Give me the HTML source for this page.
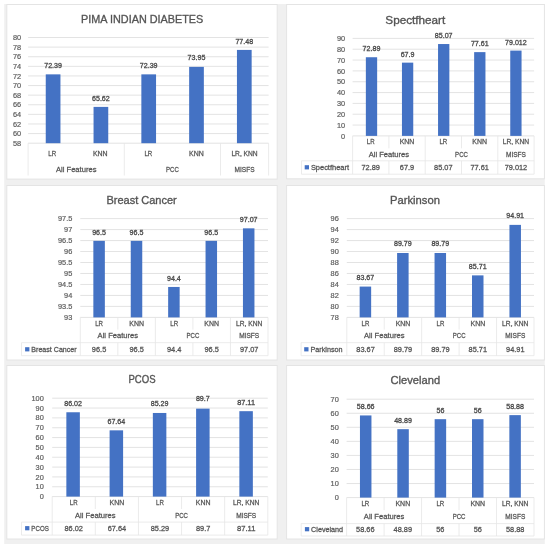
<!DOCTYPE html>
<html lang="en"><head><meta charset="utf-8"><title>Classification accuracy charts</title>
<style>
html,body{margin:0;padding:0;background:#fff;}
svg{display:block;font-family:"Liberation Sans", Arial, Helvetica, sans-serif;}
</style></head><body>
<svg width="550" height="548" viewBox="0 0 550 548">
<rect x="0" y="0" width="550" height="548" fill="#ffffff"/>
<rect x="4.20" y="4.00" width="540.60" height="540.00" fill="#f0f0f0" />
<rect x="6.80" y="4.50" width="270.40" height="174.60" fill="#ffffff" stroke="#e4e4e4" stroke-width="1"/>
<text x="142.20" y="22.92" font-size="11.52" text-anchor="middle" textLength="122.20" lengthAdjust="spacingAndGlyphs" fill="#545454" stroke="#545454" stroke-width="0.33">PIMA INDIAN DIABETES</text>
<line x1="28.10" y1="143.20" x2="268.60" y2="143.20" stroke="#dcdcdc" stroke-width="0.8"/>
<text x="21.20" y="145.81" font-size="7.29" text-anchor="end" textLength="8.21" lengthAdjust="spacingAndGlyphs" fill="#606060" stroke="#606060" stroke-width="0.2">58</text>
<line x1="28.10" y1="133.59" x2="268.60" y2="133.59" stroke="#dcdcdc" stroke-width="0.8"/>
<text x="21.20" y="136.20" font-size="7.29" text-anchor="end" textLength="8.21" lengthAdjust="spacingAndGlyphs" fill="#606060" stroke="#606060" stroke-width="0.2">60</text>
<line x1="28.10" y1="123.98" x2="268.60" y2="123.98" stroke="#dcdcdc" stroke-width="0.8"/>
<text x="21.20" y="126.59" font-size="7.29" text-anchor="end" textLength="8.21" lengthAdjust="spacingAndGlyphs" fill="#606060" stroke="#606060" stroke-width="0.2">62</text>
<line x1="28.10" y1="114.37" x2="268.60" y2="114.37" stroke="#dcdcdc" stroke-width="0.8"/>
<text x="21.20" y="116.98" font-size="7.29" text-anchor="end" textLength="8.21" lengthAdjust="spacingAndGlyphs" fill="#606060" stroke="#606060" stroke-width="0.2">64</text>
<line x1="28.10" y1="104.76" x2="268.60" y2="104.76" stroke="#dcdcdc" stroke-width="0.8"/>
<text x="21.20" y="107.37" font-size="7.29" text-anchor="end" textLength="8.21" lengthAdjust="spacingAndGlyphs" fill="#606060" stroke="#606060" stroke-width="0.2">66</text>
<line x1="28.10" y1="95.15" x2="268.60" y2="95.15" stroke="#dcdcdc" stroke-width="0.8"/>
<text x="21.20" y="97.76" font-size="7.29" text-anchor="end" textLength="8.21" lengthAdjust="spacingAndGlyphs" fill="#606060" stroke="#606060" stroke-width="0.2">68</text>
<line x1="28.10" y1="85.55" x2="268.60" y2="85.55" stroke="#dcdcdc" stroke-width="0.8"/>
<text x="21.20" y="88.16" font-size="7.29" text-anchor="end" textLength="8.21" lengthAdjust="spacingAndGlyphs" fill="#606060" stroke="#606060" stroke-width="0.2">70</text>
<line x1="28.10" y1="75.94" x2="268.60" y2="75.94" stroke="#dcdcdc" stroke-width="0.8"/>
<text x="21.20" y="78.55" font-size="7.29" text-anchor="end" textLength="8.21" lengthAdjust="spacingAndGlyphs" fill="#606060" stroke="#606060" stroke-width="0.2">72</text>
<line x1="28.10" y1="66.33" x2="268.60" y2="66.33" stroke="#dcdcdc" stroke-width="0.8"/>
<text x="21.20" y="68.94" font-size="7.29" text-anchor="end" textLength="8.21" lengthAdjust="spacingAndGlyphs" fill="#606060" stroke="#606060" stroke-width="0.2">74</text>
<line x1="28.10" y1="56.72" x2="268.60" y2="56.72" stroke="#dcdcdc" stroke-width="0.8"/>
<text x="21.20" y="59.33" font-size="7.29" text-anchor="end" textLength="8.21" lengthAdjust="spacingAndGlyphs" fill="#606060" stroke="#606060" stroke-width="0.2">76</text>
<line x1="28.10" y1="47.11" x2="268.60" y2="47.11" stroke="#dcdcdc" stroke-width="0.8"/>
<text x="21.20" y="49.72" font-size="7.29" text-anchor="end" textLength="8.21" lengthAdjust="spacingAndGlyphs" fill="#606060" stroke="#606060" stroke-width="0.2">78</text>
<line x1="28.10" y1="37.50" x2="268.60" y2="37.50" stroke="#dcdcdc" stroke-width="0.8"/>
<text x="21.20" y="40.11" font-size="7.29" text-anchor="end" textLength="8.21" lengthAdjust="spacingAndGlyphs" fill="#606060" stroke="#606060" stroke-width="0.2">80</text>
<rect x="45.75" y="74.36" width="14.70" height="68.84" fill="#4472c4" />
<text x="53.10" y="67.98" font-size="7.02" text-anchor="middle" textLength="17.78" lengthAdjust="spacingAndGlyphs" fill="#4a4a4a" stroke="#4a4a4a" stroke-width="0.3">72.39</text>
<rect x="93.55" y="106.89" width="14.70" height="36.31" fill="#4472c4" />
<text x="100.90" y="100.50" font-size="7.02" text-anchor="middle" textLength="17.78" lengthAdjust="spacingAndGlyphs" fill="#4a4a4a" stroke="#4a4a4a" stroke-width="0.3">65.62</text>
<rect x="141.35" y="74.36" width="14.70" height="68.84" fill="#4472c4" />
<text x="148.70" y="67.98" font-size="7.02" text-anchor="middle" textLength="17.78" lengthAdjust="spacingAndGlyphs" fill="#4a4a4a" stroke="#4a4a4a" stroke-width="0.3">72.39</text>
<rect x="189.15" y="66.87" width="14.70" height="76.33" fill="#4472c4" />
<text x="196.50" y="60.48" font-size="7.02" text-anchor="middle" textLength="17.78" lengthAdjust="spacingAndGlyphs" fill="#4a4a4a" stroke="#4a4a4a" stroke-width="0.3">73.95</text>
<rect x="236.95" y="49.91" width="14.70" height="93.29" fill="#4472c4" />
<text x="244.30" y="43.52" font-size="7.02" text-anchor="middle" textLength="17.78" lengthAdjust="spacingAndGlyphs" fill="#4a4a4a" stroke="#4a4a4a" stroke-width="0.3">77.48</text>
<line x1="28.10" y1="143.20" x2="28.10" y2="175.50" stroke="#e6e6e6" stroke-width="0.8"/>
<line x1="124.30" y1="143.20" x2="124.30" y2="175.50" stroke="#e6e6e6" stroke-width="0.8"/>
<line x1="220.50" y1="143.20" x2="220.50" y2="175.50" stroke="#e6e6e6" stroke-width="0.8"/>
<line x1="268.60" y1="143.20" x2="268.60" y2="175.50" stroke="#e6e6e6" stroke-width="0.8"/>
<text x="52.15" y="155.91" font-size="7.29" text-anchor="middle" textLength="7.80" lengthAdjust="spacingAndGlyphs" fill="#545454" stroke="#545454" stroke-width="0.26">LR</text>
<text x="100.25" y="155.91" font-size="7.29" text-anchor="middle" textLength="14.67" lengthAdjust="spacingAndGlyphs" fill="#545454" stroke="#545454" stroke-width="0.26">KNN</text>
<text x="148.35" y="155.91" font-size="7.29" text-anchor="middle" textLength="7.80" lengthAdjust="spacingAndGlyphs" fill="#545454" stroke="#545454" stroke-width="0.26">LR</text>
<text x="196.45" y="155.91" font-size="7.29" text-anchor="middle" textLength="14.67" lengthAdjust="spacingAndGlyphs" fill="#545454" stroke="#545454" stroke-width="0.26">KNN</text>
<text x="244.55" y="155.91" font-size="7.29" text-anchor="middle" textLength="26.32" lengthAdjust="spacingAndGlyphs" fill="#545454" stroke="#545454" stroke-width="0.26">LR, KNN</text>
<text x="76.20" y="172.04" font-size="7.65" text-anchor="middle" textLength="40.49" lengthAdjust="spacingAndGlyphs" fill="#545454" stroke="#545454" stroke-width="0.26">All Features</text>
<text x="172.40" y="171.91" font-size="7.29" text-anchor="middle" textLength="12.82" lengthAdjust="spacingAndGlyphs" fill="#545454" stroke="#545454" stroke-width="0.26">PCC</text>
<text x="244.55" y="171.91" font-size="7.29" text-anchor="middle" textLength="20.02" lengthAdjust="spacingAndGlyphs" fill="#545454" stroke="#545454" stroke-width="0.26">MISFS</text>
<rect x="286.60" y="4.50" width="257.80" height="174.30" fill="#ffffff" stroke="#e4e4e4" stroke-width="1"/>
<text x="415.30" y="23.81" font-size="11.47" text-anchor="middle" textLength="59.97" lengthAdjust="spacingAndGlyphs" fill="#545454" stroke="#545454" stroke-width="0.33">Spectfheart</text>
<line x1="352.60" y1="135.90" x2="534.10" y2="135.90" stroke="#dcdcdc" stroke-width="0.8"/>
<text x="345.20" y="138.51" font-size="7.29" text-anchor="end" textLength="4.11" lengthAdjust="spacingAndGlyphs" fill="#606060" stroke="#606060" stroke-width="0.2">0</text>
<line x1="352.60" y1="125.07" x2="534.10" y2="125.07" stroke="#dcdcdc" stroke-width="0.8"/>
<text x="345.20" y="127.68" font-size="7.29" text-anchor="end" textLength="8.21" lengthAdjust="spacingAndGlyphs" fill="#606060" stroke="#606060" stroke-width="0.2">10</text>
<line x1="352.60" y1="114.23" x2="534.10" y2="114.23" stroke="#dcdcdc" stroke-width="0.8"/>
<text x="345.20" y="116.84" font-size="7.29" text-anchor="end" textLength="8.21" lengthAdjust="spacingAndGlyphs" fill="#606060" stroke="#606060" stroke-width="0.2">20</text>
<line x1="352.60" y1="103.40" x2="534.10" y2="103.40" stroke="#dcdcdc" stroke-width="0.8"/>
<text x="345.20" y="106.01" font-size="7.29" text-anchor="end" textLength="8.21" lengthAdjust="spacingAndGlyphs" fill="#606060" stroke="#606060" stroke-width="0.2">30</text>
<line x1="352.60" y1="92.57" x2="534.10" y2="92.57" stroke="#dcdcdc" stroke-width="0.8"/>
<text x="345.20" y="95.18" font-size="7.29" text-anchor="end" textLength="8.21" lengthAdjust="spacingAndGlyphs" fill="#606060" stroke="#606060" stroke-width="0.2">40</text>
<line x1="352.60" y1="81.73" x2="534.10" y2="81.73" stroke="#dcdcdc" stroke-width="0.8"/>
<text x="345.20" y="84.34" font-size="7.29" text-anchor="end" textLength="8.21" lengthAdjust="spacingAndGlyphs" fill="#606060" stroke="#606060" stroke-width="0.2">50</text>
<line x1="352.60" y1="70.90" x2="534.10" y2="70.90" stroke="#dcdcdc" stroke-width="0.8"/>
<text x="345.20" y="73.51" font-size="7.29" text-anchor="end" textLength="8.21" lengthAdjust="spacingAndGlyphs" fill="#606060" stroke="#606060" stroke-width="0.2">60</text>
<line x1="352.60" y1="60.07" x2="534.10" y2="60.07" stroke="#dcdcdc" stroke-width="0.8"/>
<text x="345.20" y="62.68" font-size="7.29" text-anchor="end" textLength="8.21" lengthAdjust="spacingAndGlyphs" fill="#606060" stroke="#606060" stroke-width="0.2">70</text>
<line x1="352.60" y1="49.23" x2="534.10" y2="49.23" stroke="#dcdcdc" stroke-width="0.8"/>
<text x="345.20" y="51.84" font-size="7.29" text-anchor="end" textLength="8.21" lengthAdjust="spacingAndGlyphs" fill="#606060" stroke="#606060" stroke-width="0.2">80</text>
<line x1="352.60" y1="38.40" x2="534.10" y2="38.40" stroke="#dcdcdc" stroke-width="0.8"/>
<text x="345.20" y="41.01" font-size="7.29" text-anchor="end" textLength="8.21" lengthAdjust="spacingAndGlyphs" fill="#606060" stroke="#606060" stroke-width="0.2">90</text>
<rect x="365.85" y="57.24" width="11.30" height="78.66" fill="#4472c4" />
<text x="371.50" y="51.25" font-size="7.02" text-anchor="middle" textLength="17.78" lengthAdjust="spacingAndGlyphs" fill="#4a4a4a" stroke="#4a4a4a" stroke-width="0.3">72.89</text>
<rect x="401.95" y="62.64" width="11.30" height="73.26" fill="#4472c4" />
<text x="407.60" y="56.65" font-size="7.02" text-anchor="middle" textLength="13.83" lengthAdjust="spacingAndGlyphs" fill="#4a4a4a" stroke="#4a4a4a" stroke-width="0.3">67.9</text>
<rect x="438.05" y="44.04" width="11.30" height="91.86" fill="#4472c4" />
<text x="443.70" y="38.05" font-size="7.02" text-anchor="middle" textLength="17.78" lengthAdjust="spacingAndGlyphs" fill="#4a4a4a" stroke="#4a4a4a" stroke-width="0.3">85.07</text>
<rect x="474.15" y="52.12" width="11.30" height="83.78" fill="#4472c4" />
<text x="479.80" y="46.14" font-size="7.02" text-anchor="middle" textLength="17.78" lengthAdjust="spacingAndGlyphs" fill="#4a4a4a" stroke="#4a4a4a" stroke-width="0.3">77.61</text>
<rect x="510.25" y="50.60" width="11.30" height="85.30" fill="#4472c4" />
<text x="515.90" y="44.62" font-size="7.02" text-anchor="middle" textLength="21.74" lengthAdjust="spacingAndGlyphs" fill="#4a4a4a" stroke="#4a4a4a" stroke-width="0.3">79.012</text>
<line x1="352.60" y1="135.90" x2="352.60" y2="174.20" stroke="#e6e6e6" stroke-width="0.8"/>
<line x1="388.90" y1="135.90" x2="388.90" y2="148.30" stroke="#e6e6e6" stroke-width="0.8"/>
<line x1="388.90" y1="160.80" x2="388.90" y2="174.20" stroke="#e6e6e6" stroke-width="0.8"/>
<line x1="425.20" y1="135.90" x2="425.20" y2="174.20" stroke="#e6e6e6" stroke-width="0.8"/>
<line x1="461.50" y1="135.90" x2="461.50" y2="148.30" stroke="#e6e6e6" stroke-width="0.8"/>
<line x1="461.50" y1="160.80" x2="461.50" y2="174.20" stroke="#e6e6e6" stroke-width="0.8"/>
<line x1="497.80" y1="135.90" x2="497.80" y2="174.20" stroke="#e6e6e6" stroke-width="0.8"/>
<line x1="534.10" y1="135.90" x2="534.10" y2="174.20" stroke="#e6e6e6" stroke-width="0.8"/>
<text x="370.75" y="144.41" font-size="7.29" text-anchor="middle" textLength="7.80" lengthAdjust="spacingAndGlyphs" fill="#545454" stroke="#545454" stroke-width="0.26">LR</text>
<text x="407.05" y="144.41" font-size="7.29" text-anchor="middle" textLength="14.67" lengthAdjust="spacingAndGlyphs" fill="#545454" stroke="#545454" stroke-width="0.26">KNN</text>
<text x="443.35" y="144.41" font-size="7.29" text-anchor="middle" textLength="7.80" lengthAdjust="spacingAndGlyphs" fill="#545454" stroke="#545454" stroke-width="0.26">LR</text>
<text x="479.65" y="144.41" font-size="7.29" text-anchor="middle" textLength="14.67" lengthAdjust="spacingAndGlyphs" fill="#545454" stroke="#545454" stroke-width="0.26">KNN</text>
<text x="515.95" y="144.41" font-size="7.29" text-anchor="middle" textLength="26.32" lengthAdjust="spacingAndGlyphs" fill="#545454" stroke="#545454" stroke-width="0.26">LR, KNN</text>
<text x="388.90" y="157.24" font-size="7.65" text-anchor="middle" textLength="40.49" lengthAdjust="spacingAndGlyphs" fill="#545454" stroke="#545454" stroke-width="0.26">All Features</text>
<text x="461.50" y="157.11" font-size="7.29" text-anchor="middle" textLength="12.82" lengthAdjust="spacingAndGlyphs" fill="#545454" stroke="#545454" stroke-width="0.26">PCC</text>
<text x="515.95" y="157.11" font-size="7.29" text-anchor="middle" textLength="20.02" lengthAdjust="spacingAndGlyphs" fill="#545454" stroke="#545454" stroke-width="0.26">MISFS</text>
<line x1="301.50" y1="160.80" x2="534.10" y2="160.80" stroke="#e6e6e6" stroke-width="0.8"/>
<line x1="301.50" y1="174.20" x2="534.10" y2="174.20" stroke="#e6e6e6" stroke-width="0.8"/>
<line x1="301.50" y1="160.80" x2="301.50" y2="174.20" stroke="#e6e6e6" stroke-width="0.8"/>
<text x="370.75" y="169.91" font-size="7.29" text-anchor="middle" textLength="18.47" lengthAdjust="spacingAndGlyphs" fill="#545454" stroke="#545454" stroke-width="0.26">72.89</text>
<text x="407.05" y="169.91" font-size="7.29" text-anchor="middle" textLength="14.36" lengthAdjust="spacingAndGlyphs" fill="#545454" stroke="#545454" stroke-width="0.26">67.9</text>
<text x="443.35" y="169.91" font-size="7.29" text-anchor="middle" textLength="18.47" lengthAdjust="spacingAndGlyphs" fill="#545454" stroke="#545454" stroke-width="0.26">85.07</text>
<text x="479.65" y="169.91" font-size="7.29" text-anchor="middle" textLength="18.47" lengthAdjust="spacingAndGlyphs" fill="#545454" stroke="#545454" stroke-width="0.26">77.61</text>
<text x="515.95" y="169.91" font-size="7.29" text-anchor="middle" textLength="22.57" lengthAdjust="spacingAndGlyphs" fill="#545454" stroke="#545454" stroke-width="0.26">79.012</text>
<rect x="304.70" y="165.20" width="4.30" height="4.20" fill="#4472c4" />
<text x="310.90" y="169.91" font-size="7.29" text-anchor="start" textLength="38.10" lengthAdjust="spacingAndGlyphs" fill="#545454" stroke="#545454" stroke-width="0.26">Spectfheart</text>
<rect x="6.80" y="185.50" width="270.40" height="174.50" fill="#ffffff" stroke="#e4e4e4" stroke-width="1"/>
<text x="141.60" y="204.04" font-size="11.30" text-anchor="middle" textLength="70.33" lengthAdjust="spacingAndGlyphs" fill="#545454" stroke="#545454" stroke-width="0.33">Breast Cancer</text>
<line x1="80.30" y1="317.40" x2="268.00" y2="317.40" stroke="#dcdcdc" stroke-width="0.8"/>
<text x="72.30" y="320.01" font-size="7.29" text-anchor="end" textLength="8.21" lengthAdjust="spacingAndGlyphs" fill="#606060" stroke="#606060" stroke-width="0.2">93</text>
<line x1="80.30" y1="306.42" x2="268.00" y2="306.42" stroke="#dcdcdc" stroke-width="0.8"/>
<text x="72.30" y="309.03" font-size="7.29" text-anchor="end" textLength="14.36" lengthAdjust="spacingAndGlyphs" fill="#606060" stroke="#606060" stroke-width="0.2">93.5</text>
<line x1="80.30" y1="295.44" x2="268.00" y2="295.44" stroke="#dcdcdc" stroke-width="0.8"/>
<text x="72.30" y="298.05" font-size="7.29" text-anchor="end" textLength="8.21" lengthAdjust="spacingAndGlyphs" fill="#606060" stroke="#606060" stroke-width="0.2">94</text>
<line x1="80.30" y1="284.47" x2="268.00" y2="284.47" stroke="#dcdcdc" stroke-width="0.8"/>
<text x="72.30" y="287.08" font-size="7.29" text-anchor="end" textLength="14.36" lengthAdjust="spacingAndGlyphs" fill="#606060" stroke="#606060" stroke-width="0.2">94.5</text>
<line x1="80.30" y1="273.49" x2="268.00" y2="273.49" stroke="#dcdcdc" stroke-width="0.8"/>
<text x="72.30" y="276.10" font-size="7.29" text-anchor="end" textLength="8.21" lengthAdjust="spacingAndGlyphs" fill="#606060" stroke="#606060" stroke-width="0.2">95</text>
<line x1="80.30" y1="262.51" x2="268.00" y2="262.51" stroke="#dcdcdc" stroke-width="0.8"/>
<text x="72.30" y="265.12" font-size="7.29" text-anchor="end" textLength="14.36" lengthAdjust="spacingAndGlyphs" fill="#606060" stroke="#606060" stroke-width="0.2">95.5</text>
<line x1="80.30" y1="251.53" x2="268.00" y2="251.53" stroke="#dcdcdc" stroke-width="0.8"/>
<text x="72.30" y="254.14" font-size="7.29" text-anchor="end" textLength="8.21" lengthAdjust="spacingAndGlyphs" fill="#606060" stroke="#606060" stroke-width="0.2">96</text>
<line x1="80.30" y1="240.56" x2="268.00" y2="240.56" stroke="#dcdcdc" stroke-width="0.8"/>
<text x="72.30" y="243.17" font-size="7.29" text-anchor="end" textLength="14.36" lengthAdjust="spacingAndGlyphs" fill="#606060" stroke="#606060" stroke-width="0.2">96.5</text>
<line x1="80.30" y1="229.58" x2="268.00" y2="229.58" stroke="#dcdcdc" stroke-width="0.8"/>
<text x="72.30" y="232.19" font-size="7.29" text-anchor="end" textLength="8.21" lengthAdjust="spacingAndGlyphs" fill="#606060" stroke="#606060" stroke-width="0.2">97</text>
<line x1="80.30" y1="218.60" x2="268.00" y2="218.60" stroke="#dcdcdc" stroke-width="0.8"/>
<text x="72.30" y="221.21" font-size="7.29" text-anchor="end" textLength="14.36" lengthAdjust="spacingAndGlyphs" fill="#606060" stroke="#606060" stroke-width="0.2">97.5</text>
<rect x="93.35" y="240.86" width="11.50" height="76.54" fill="#4472c4" />
<text x="99.10" y="234.67" font-size="7.02" text-anchor="middle" textLength="13.83" lengthAdjust="spacingAndGlyphs" fill="#4a4a4a" stroke="#4a4a4a" stroke-width="0.3">96.5</text>
<rect x="130.75" y="240.86" width="11.50" height="76.54" fill="#4472c4" />
<text x="136.50" y="234.67" font-size="7.02" text-anchor="middle" textLength="13.83" lengthAdjust="spacingAndGlyphs" fill="#4a4a4a" stroke="#4a4a4a" stroke-width="0.3">96.5</text>
<rect x="168.15" y="286.96" width="11.50" height="30.44" fill="#4472c4" />
<text x="173.90" y="280.78" font-size="7.02" text-anchor="middle" textLength="13.83" lengthAdjust="spacingAndGlyphs" fill="#4a4a4a" stroke="#4a4a4a" stroke-width="0.3">94.4</text>
<rect x="205.55" y="240.86" width="11.50" height="76.54" fill="#4472c4" />
<text x="211.30" y="234.67" font-size="7.02" text-anchor="middle" textLength="13.83" lengthAdjust="spacingAndGlyphs" fill="#4a4a4a" stroke="#4a4a4a" stroke-width="0.3">96.5</text>
<rect x="242.95" y="228.34" width="11.50" height="89.06" fill="#4472c4" />
<text x="248.70" y="222.15" font-size="7.02" text-anchor="middle" textLength="17.78" lengthAdjust="spacingAndGlyphs" fill="#4a4a4a" stroke="#4a4a4a" stroke-width="0.3">97.07</text>
<line x1="80.30" y1="317.40" x2="80.30" y2="355.70" stroke="#e6e6e6" stroke-width="0.8"/>
<line x1="117.84" y1="317.40" x2="117.84" y2="329.60" stroke="#e6e6e6" stroke-width="0.8"/>
<line x1="117.84" y1="342.70" x2="117.84" y2="355.70" stroke="#e6e6e6" stroke-width="0.8"/>
<line x1="155.38" y1="317.40" x2="155.38" y2="355.70" stroke="#e6e6e6" stroke-width="0.8"/>
<line x1="192.92" y1="317.40" x2="192.92" y2="329.60" stroke="#e6e6e6" stroke-width="0.8"/>
<line x1="192.92" y1="342.70" x2="192.92" y2="355.70" stroke="#e6e6e6" stroke-width="0.8"/>
<line x1="230.46" y1="317.40" x2="230.46" y2="355.70" stroke="#e6e6e6" stroke-width="0.8"/>
<line x1="268.00" y1="317.40" x2="268.00" y2="355.70" stroke="#e6e6e6" stroke-width="0.8"/>
<text x="99.07" y="325.81" font-size="7.29" text-anchor="middle" textLength="7.80" lengthAdjust="spacingAndGlyphs" fill="#545454" stroke="#545454" stroke-width="0.26">LR</text>
<text x="136.61" y="325.81" font-size="7.29" text-anchor="middle" textLength="14.67" lengthAdjust="spacingAndGlyphs" fill="#545454" stroke="#545454" stroke-width="0.26">KNN</text>
<text x="174.15" y="325.81" font-size="7.29" text-anchor="middle" textLength="7.80" lengthAdjust="spacingAndGlyphs" fill="#545454" stroke="#545454" stroke-width="0.26">LR</text>
<text x="211.69" y="325.81" font-size="7.29" text-anchor="middle" textLength="14.67" lengthAdjust="spacingAndGlyphs" fill="#545454" stroke="#545454" stroke-width="0.26">KNN</text>
<text x="249.23" y="325.81" font-size="7.29" text-anchor="middle" textLength="26.32" lengthAdjust="spacingAndGlyphs" fill="#545454" stroke="#545454" stroke-width="0.26">LR, KNN</text>
<text x="117.84" y="338.24" font-size="7.65" text-anchor="middle" textLength="40.49" lengthAdjust="spacingAndGlyphs" fill="#545454" stroke="#545454" stroke-width="0.26">All Features</text>
<text x="192.92" y="338.11" font-size="7.29" text-anchor="middle" textLength="12.82" lengthAdjust="spacingAndGlyphs" fill="#545454" stroke="#545454" stroke-width="0.26">PCC</text>
<text x="249.23" y="338.11" font-size="7.29" text-anchor="middle" textLength="20.02" lengthAdjust="spacingAndGlyphs" fill="#545454" stroke="#545454" stroke-width="0.26">MISFS</text>
<line x1="21.50" y1="342.70" x2="268.00" y2="342.70" stroke="#e6e6e6" stroke-width="0.8"/>
<line x1="21.50" y1="355.70" x2="268.00" y2="355.70" stroke="#e6e6e6" stroke-width="0.8"/>
<line x1="21.50" y1="342.70" x2="21.50" y2="355.70" stroke="#e6e6e6" stroke-width="0.8"/>
<text x="99.07" y="351.91" font-size="7.29" text-anchor="middle" textLength="14.36" lengthAdjust="spacingAndGlyphs" fill="#545454" stroke="#545454" stroke-width="0.26">96.5</text>
<text x="136.61" y="351.91" font-size="7.29" text-anchor="middle" textLength="14.36" lengthAdjust="spacingAndGlyphs" fill="#545454" stroke="#545454" stroke-width="0.26">96.5</text>
<text x="174.15" y="351.91" font-size="7.29" text-anchor="middle" textLength="14.36" lengthAdjust="spacingAndGlyphs" fill="#545454" stroke="#545454" stroke-width="0.26">94.4</text>
<text x="211.69" y="351.91" font-size="7.29" text-anchor="middle" textLength="14.36" lengthAdjust="spacingAndGlyphs" fill="#545454" stroke="#545454" stroke-width="0.26">96.5</text>
<text x="249.23" y="351.91" font-size="7.29" text-anchor="middle" textLength="18.47" lengthAdjust="spacingAndGlyphs" fill="#545454" stroke="#545454" stroke-width="0.26">97.07</text>
<rect x="25.10" y="347.20" width="4.30" height="4.20" fill="#4472c4" />
<text x="31.30" y="351.91" font-size="7.29" text-anchor="start" textLength="45.39" lengthAdjust="spacingAndGlyphs" fill="#545454" stroke="#545454" stroke-width="0.26">Breast Cancer</text>
<rect x="286.60" y="185.50" width="257.80" height="174.50" fill="#ffffff" stroke="#e4e4e4" stroke-width="1"/>
<text x="415.00" y="204.04" font-size="11.30" text-anchor="middle" textLength="49.90" lengthAdjust="spacingAndGlyphs" fill="#545454" stroke="#545454" stroke-width="0.33">Parkinson</text>
<line x1="346.80" y1="317.40" x2="534.00" y2="317.40" stroke="#dcdcdc" stroke-width="0.8"/>
<text x="338.80" y="320.01" font-size="7.29" text-anchor="end" textLength="8.21" lengthAdjust="spacingAndGlyphs" fill="#606060" stroke="#606060" stroke-width="0.2">78</text>
<line x1="346.80" y1="306.42" x2="534.00" y2="306.42" stroke="#dcdcdc" stroke-width="0.8"/>
<text x="338.80" y="309.03" font-size="7.29" text-anchor="end" textLength="8.21" lengthAdjust="spacingAndGlyphs" fill="#606060" stroke="#606060" stroke-width="0.2">80</text>
<line x1="346.80" y1="295.44" x2="534.00" y2="295.44" stroke="#dcdcdc" stroke-width="0.8"/>
<text x="338.80" y="298.05" font-size="7.29" text-anchor="end" textLength="8.21" lengthAdjust="spacingAndGlyphs" fill="#606060" stroke="#606060" stroke-width="0.2">82</text>
<line x1="346.80" y1="284.47" x2="534.00" y2="284.47" stroke="#dcdcdc" stroke-width="0.8"/>
<text x="338.80" y="287.08" font-size="7.29" text-anchor="end" textLength="8.21" lengthAdjust="spacingAndGlyphs" fill="#606060" stroke="#606060" stroke-width="0.2">84</text>
<line x1="346.80" y1="273.49" x2="534.00" y2="273.49" stroke="#dcdcdc" stroke-width="0.8"/>
<text x="338.80" y="276.10" font-size="7.29" text-anchor="end" textLength="8.21" lengthAdjust="spacingAndGlyphs" fill="#606060" stroke="#606060" stroke-width="0.2">86</text>
<line x1="346.80" y1="262.51" x2="534.00" y2="262.51" stroke="#dcdcdc" stroke-width="0.8"/>
<text x="338.80" y="265.12" font-size="7.29" text-anchor="end" textLength="8.21" lengthAdjust="spacingAndGlyphs" fill="#606060" stroke="#606060" stroke-width="0.2">88</text>
<line x1="346.80" y1="251.53" x2="534.00" y2="251.53" stroke="#dcdcdc" stroke-width="0.8"/>
<text x="338.80" y="254.14" font-size="7.29" text-anchor="end" textLength="8.21" lengthAdjust="spacingAndGlyphs" fill="#606060" stroke="#606060" stroke-width="0.2">90</text>
<line x1="346.80" y1="240.56" x2="534.00" y2="240.56" stroke="#dcdcdc" stroke-width="0.8"/>
<text x="338.80" y="243.17" font-size="7.29" text-anchor="end" textLength="8.21" lengthAdjust="spacingAndGlyphs" fill="#606060" stroke="#606060" stroke-width="0.2">92</text>
<line x1="346.80" y1="229.58" x2="534.00" y2="229.58" stroke="#dcdcdc" stroke-width="0.8"/>
<text x="338.80" y="232.19" font-size="7.29" text-anchor="end" textLength="8.21" lengthAdjust="spacingAndGlyphs" fill="#606060" stroke="#606060" stroke-width="0.2">94</text>
<line x1="346.80" y1="218.60" x2="534.00" y2="218.60" stroke="#dcdcdc" stroke-width="0.8"/>
<text x="338.80" y="221.21" font-size="7.29" text-anchor="end" textLength="8.21" lengthAdjust="spacingAndGlyphs" fill="#606060" stroke="#606060" stroke-width="0.2">96</text>
<rect x="359.65" y="286.58" width="11.50" height="30.82" fill="#4472c4" />
<text x="365.40" y="279.99" font-size="7.02" text-anchor="middle" textLength="17.78" lengthAdjust="spacingAndGlyphs" fill="#4a4a4a" stroke="#4a4a4a" stroke-width="0.3">83.67</text>
<rect x="397.10" y="252.99" width="11.50" height="64.41" fill="#4472c4" />
<text x="402.85" y="246.40" font-size="7.02" text-anchor="middle" textLength="17.78" lengthAdjust="spacingAndGlyphs" fill="#4a4a4a" stroke="#4a4a4a" stroke-width="0.3">89.79</text>
<rect x="434.55" y="252.99" width="11.50" height="64.41" fill="#4472c4" />
<text x="440.30" y="246.40" font-size="7.02" text-anchor="middle" textLength="17.78" lengthAdjust="spacingAndGlyphs" fill="#4a4a4a" stroke="#4a4a4a" stroke-width="0.3">89.79</text>
<rect x="472.00" y="275.38" width="11.50" height="42.02" fill="#4472c4" />
<text x="477.75" y="268.79" font-size="7.02" text-anchor="middle" textLength="17.78" lengthAdjust="spacingAndGlyphs" fill="#4a4a4a" stroke="#4a4a4a" stroke-width="0.3">85.71</text>
<rect x="509.45" y="224.88" width="11.50" height="92.52" fill="#4472c4" />
<text x="515.20" y="218.30" font-size="7.02" text-anchor="middle" textLength="17.78" lengthAdjust="spacingAndGlyphs" fill="#4a4a4a" stroke="#4a4a4a" stroke-width="0.3">94.91</text>
<line x1="346.80" y1="317.40" x2="346.80" y2="355.70" stroke="#e6e6e6" stroke-width="0.8"/>
<line x1="384.24" y1="317.40" x2="384.24" y2="329.60" stroke="#e6e6e6" stroke-width="0.8"/>
<line x1="384.24" y1="342.70" x2="384.24" y2="355.70" stroke="#e6e6e6" stroke-width="0.8"/>
<line x1="421.68" y1="317.40" x2="421.68" y2="355.70" stroke="#e6e6e6" stroke-width="0.8"/>
<line x1="459.12" y1="317.40" x2="459.12" y2="329.60" stroke="#e6e6e6" stroke-width="0.8"/>
<line x1="459.12" y1="342.70" x2="459.12" y2="355.70" stroke="#e6e6e6" stroke-width="0.8"/>
<line x1="496.56" y1="317.40" x2="496.56" y2="355.70" stroke="#e6e6e6" stroke-width="0.8"/>
<line x1="534.00" y1="317.40" x2="534.00" y2="355.70" stroke="#e6e6e6" stroke-width="0.8"/>
<text x="365.52" y="325.81" font-size="7.29" text-anchor="middle" textLength="7.80" lengthAdjust="spacingAndGlyphs" fill="#545454" stroke="#545454" stroke-width="0.26">LR</text>
<text x="402.96" y="325.81" font-size="7.29" text-anchor="middle" textLength="14.67" lengthAdjust="spacingAndGlyphs" fill="#545454" stroke="#545454" stroke-width="0.26">KNN</text>
<text x="440.40" y="325.81" font-size="7.29" text-anchor="middle" textLength="7.80" lengthAdjust="spacingAndGlyphs" fill="#545454" stroke="#545454" stroke-width="0.26">LR</text>
<text x="477.84" y="325.81" font-size="7.29" text-anchor="middle" textLength="14.67" lengthAdjust="spacingAndGlyphs" fill="#545454" stroke="#545454" stroke-width="0.26">KNN</text>
<text x="515.28" y="325.81" font-size="7.29" text-anchor="middle" textLength="26.32" lengthAdjust="spacingAndGlyphs" fill="#545454" stroke="#545454" stroke-width="0.26">LR, KNN</text>
<text x="384.24" y="338.24" font-size="7.65" text-anchor="middle" textLength="40.49" lengthAdjust="spacingAndGlyphs" fill="#545454" stroke="#545454" stroke-width="0.26">All Features</text>
<text x="459.12" y="338.11" font-size="7.29" text-anchor="middle" textLength="12.82" lengthAdjust="spacingAndGlyphs" fill="#545454" stroke="#545454" stroke-width="0.26">PCC</text>
<text x="515.28" y="338.11" font-size="7.29" text-anchor="middle" textLength="20.02" lengthAdjust="spacingAndGlyphs" fill="#545454" stroke="#545454" stroke-width="0.26">MISFS</text>
<line x1="301.10" y1="342.70" x2="534.00" y2="342.70" stroke="#e6e6e6" stroke-width="0.8"/>
<line x1="301.10" y1="355.70" x2="534.00" y2="355.70" stroke="#e6e6e6" stroke-width="0.8"/>
<line x1="301.10" y1="342.70" x2="301.10" y2="355.70" stroke="#e6e6e6" stroke-width="0.8"/>
<text x="365.52" y="351.91" font-size="7.29" text-anchor="middle" textLength="18.47" lengthAdjust="spacingAndGlyphs" fill="#545454" stroke="#545454" stroke-width="0.26">83.67</text>
<text x="402.96" y="351.91" font-size="7.29" text-anchor="middle" textLength="18.47" lengthAdjust="spacingAndGlyphs" fill="#545454" stroke="#545454" stroke-width="0.26">89.79</text>
<text x="440.40" y="351.91" font-size="7.29" text-anchor="middle" textLength="18.47" lengthAdjust="spacingAndGlyphs" fill="#545454" stroke="#545454" stroke-width="0.26">89.79</text>
<text x="477.84" y="351.91" font-size="7.29" text-anchor="middle" textLength="18.47" lengthAdjust="spacingAndGlyphs" fill="#545454" stroke="#545454" stroke-width="0.26">85.71</text>
<text x="515.28" y="351.91" font-size="7.29" text-anchor="middle" textLength="18.47" lengthAdjust="spacingAndGlyphs" fill="#545454" stroke="#545454" stroke-width="0.26">94.91</text>
<rect x="304.20" y="347.20" width="4.30" height="4.20" fill="#4472c4" />
<text x="310.40" y="351.91" font-size="7.29" text-anchor="start" textLength="32.21" lengthAdjust="spacingAndGlyphs" fill="#545454" stroke="#545454" stroke-width="0.26">Parkinson</text>
<rect x="6.80" y="365.50" width="270.40" height="173.50" fill="#ffffff" stroke="#e4e4e4" stroke-width="1"/>
<text x="142.00" y="383.24" font-size="11.30" text-anchor="middle" textLength="27.14" lengthAdjust="spacingAndGlyphs" fill="#545454" stroke="#545454" stroke-width="0.33">PCOS</text>
<line x1="52.20" y1="496.60" x2="267.80" y2="496.60" stroke="#dcdcdc" stroke-width="0.8"/>
<text x="43.80" y="499.21" font-size="7.29" text-anchor="end" textLength="4.11" lengthAdjust="spacingAndGlyphs" fill="#606060" stroke="#606060" stroke-width="0.2">0</text>
<line x1="52.20" y1="486.76" x2="267.80" y2="486.76" stroke="#dcdcdc" stroke-width="0.8"/>
<text x="43.80" y="489.37" font-size="7.29" text-anchor="end" textLength="8.21" lengthAdjust="spacingAndGlyphs" fill="#606060" stroke="#606060" stroke-width="0.2">10</text>
<line x1="52.20" y1="476.92" x2="267.80" y2="476.92" stroke="#dcdcdc" stroke-width="0.8"/>
<text x="43.80" y="479.53" font-size="7.29" text-anchor="end" textLength="8.21" lengthAdjust="spacingAndGlyphs" fill="#606060" stroke="#606060" stroke-width="0.2">20</text>
<line x1="52.20" y1="467.08" x2="267.80" y2="467.08" stroke="#dcdcdc" stroke-width="0.8"/>
<text x="43.80" y="469.69" font-size="7.29" text-anchor="end" textLength="8.21" lengthAdjust="spacingAndGlyphs" fill="#606060" stroke="#606060" stroke-width="0.2">30</text>
<line x1="52.20" y1="457.24" x2="267.80" y2="457.24" stroke="#dcdcdc" stroke-width="0.8"/>
<text x="43.80" y="459.85" font-size="7.29" text-anchor="end" textLength="8.21" lengthAdjust="spacingAndGlyphs" fill="#606060" stroke="#606060" stroke-width="0.2">40</text>
<line x1="52.20" y1="447.40" x2="267.80" y2="447.40" stroke="#dcdcdc" stroke-width="0.8"/>
<text x="43.80" y="450.01" font-size="7.29" text-anchor="end" textLength="8.21" lengthAdjust="spacingAndGlyphs" fill="#606060" stroke="#606060" stroke-width="0.2">50</text>
<line x1="52.20" y1="437.56" x2="267.80" y2="437.56" stroke="#dcdcdc" stroke-width="0.8"/>
<text x="43.80" y="440.17" font-size="7.29" text-anchor="end" textLength="8.21" lengthAdjust="spacingAndGlyphs" fill="#606060" stroke="#606060" stroke-width="0.2">60</text>
<line x1="52.20" y1="427.72" x2="267.80" y2="427.72" stroke="#dcdcdc" stroke-width="0.8"/>
<text x="43.80" y="430.33" font-size="7.29" text-anchor="end" textLength="8.21" lengthAdjust="spacingAndGlyphs" fill="#606060" stroke="#606060" stroke-width="0.2">70</text>
<line x1="52.20" y1="417.88" x2="267.80" y2="417.88" stroke="#dcdcdc" stroke-width="0.8"/>
<text x="43.80" y="420.49" font-size="7.29" text-anchor="end" textLength="8.21" lengthAdjust="spacingAndGlyphs" fill="#606060" stroke="#606060" stroke-width="0.2">80</text>
<line x1="52.20" y1="408.04" x2="267.80" y2="408.04" stroke="#dcdcdc" stroke-width="0.8"/>
<text x="43.80" y="410.65" font-size="7.29" text-anchor="end" textLength="8.21" lengthAdjust="spacingAndGlyphs" fill="#606060" stroke="#606060" stroke-width="0.2">90</text>
<line x1="52.20" y1="398.20" x2="267.80" y2="398.20" stroke="#dcdcdc" stroke-width="0.8"/>
<text x="43.80" y="400.81" font-size="7.29" text-anchor="end" textLength="12.32" lengthAdjust="spacingAndGlyphs" fill="#606060" stroke="#606060" stroke-width="0.2">100</text>
<rect x="66.35" y="412.26" width="13.50" height="84.34" fill="#4472c4" />
<text x="73.10" y="405.67" font-size="7.02" text-anchor="middle" textLength="17.78" lengthAdjust="spacingAndGlyphs" fill="#4a4a4a" stroke="#4a4a4a" stroke-width="0.3">86.02</text>
<rect x="109.60" y="430.34" width="13.50" height="66.26" fill="#4472c4" />
<text x="116.35" y="423.76" font-size="7.02" text-anchor="middle" textLength="17.78" lengthAdjust="spacingAndGlyphs" fill="#4a4a4a" stroke="#4a4a4a" stroke-width="0.3">67.64</text>
<rect x="152.85" y="412.97" width="13.50" height="83.63" fill="#4472c4" />
<text x="159.60" y="406.39" font-size="7.02" text-anchor="middle" textLength="17.78" lengthAdjust="spacingAndGlyphs" fill="#4a4a4a" stroke="#4a4a4a" stroke-width="0.3">85.29</text>
<rect x="196.10" y="408.64" width="13.50" height="87.96" fill="#4472c4" />
<text x="202.85" y="401.45" font-size="7.02" text-anchor="middle" textLength="13.83" lengthAdjust="spacingAndGlyphs" fill="#4a4a4a" stroke="#4a4a4a" stroke-width="0.3">89.7</text>
<rect x="239.35" y="411.18" width="13.50" height="85.42" fill="#4472c4" />
<text x="246.10" y="404.60" font-size="7.02" text-anchor="middle" textLength="17.78" lengthAdjust="spacingAndGlyphs" fill="#4a4a4a" stroke="#4a4a4a" stroke-width="0.3">87.11</text>
<line x1="52.20" y1="496.60" x2="52.20" y2="535.10" stroke="#e6e6e6" stroke-width="0.8"/>
<line x1="95.32" y1="496.60" x2="95.32" y2="509.00" stroke="#e6e6e6" stroke-width="0.8"/>
<line x1="95.32" y1="522.10" x2="95.32" y2="535.10" stroke="#e6e6e6" stroke-width="0.8"/>
<line x1="138.44" y1="496.60" x2="138.44" y2="535.10" stroke="#e6e6e6" stroke-width="0.8"/>
<line x1="181.56" y1="496.60" x2="181.56" y2="509.00" stroke="#e6e6e6" stroke-width="0.8"/>
<line x1="181.56" y1="522.10" x2="181.56" y2="535.10" stroke="#e6e6e6" stroke-width="0.8"/>
<line x1="224.68" y1="496.60" x2="224.68" y2="535.10" stroke="#e6e6e6" stroke-width="0.8"/>
<line x1="267.80" y1="496.60" x2="267.80" y2="535.10" stroke="#e6e6e6" stroke-width="0.8"/>
<text x="73.76" y="505.41" font-size="7.29" text-anchor="middle" textLength="7.80" lengthAdjust="spacingAndGlyphs" fill="#545454" stroke="#545454" stroke-width="0.26">LR</text>
<text x="116.88" y="505.41" font-size="7.29" text-anchor="middle" textLength="14.67" lengthAdjust="spacingAndGlyphs" fill="#545454" stroke="#545454" stroke-width="0.26">KNN</text>
<text x="160.00" y="505.41" font-size="7.29" text-anchor="middle" textLength="7.80" lengthAdjust="spacingAndGlyphs" fill="#545454" stroke="#545454" stroke-width="0.26">LR</text>
<text x="203.12" y="505.41" font-size="7.29" text-anchor="middle" textLength="14.67" lengthAdjust="spacingAndGlyphs" fill="#545454" stroke="#545454" stroke-width="0.26">KNN</text>
<text x="246.24" y="505.41" font-size="7.29" text-anchor="middle" textLength="26.32" lengthAdjust="spacingAndGlyphs" fill="#545454" stroke="#545454" stroke-width="0.26">LR, KNN</text>
<text x="95.32" y="518.34" font-size="7.65" text-anchor="middle" textLength="40.49" lengthAdjust="spacingAndGlyphs" fill="#545454" stroke="#545454" stroke-width="0.26">All Features</text>
<text x="181.56" y="518.21" font-size="7.29" text-anchor="middle" textLength="12.82" lengthAdjust="spacingAndGlyphs" fill="#545454" stroke="#545454" stroke-width="0.26">PCC</text>
<text x="246.24" y="518.21" font-size="7.29" text-anchor="middle" textLength="20.02" lengthAdjust="spacingAndGlyphs" fill="#545454" stroke="#545454" stroke-width="0.26">MISFS</text>
<line x1="21.50" y1="522.10" x2="267.80" y2="522.10" stroke="#e6e6e6" stroke-width="0.8"/>
<line x1="21.50" y1="535.10" x2="267.80" y2="535.10" stroke="#e6e6e6" stroke-width="0.8"/>
<line x1="21.50" y1="522.10" x2="21.50" y2="535.10" stroke="#e6e6e6" stroke-width="0.8"/>
<text x="73.76" y="530.81" font-size="7.29" text-anchor="middle" textLength="18.47" lengthAdjust="spacingAndGlyphs" fill="#545454" stroke="#545454" stroke-width="0.26">86.02</text>
<text x="116.88" y="530.81" font-size="7.29" text-anchor="middle" textLength="18.47" lengthAdjust="spacingAndGlyphs" fill="#545454" stroke="#545454" stroke-width="0.26">67.64</text>
<text x="160.00" y="530.81" font-size="7.29" text-anchor="middle" textLength="18.47" lengthAdjust="spacingAndGlyphs" fill="#545454" stroke="#545454" stroke-width="0.26">85.29</text>
<text x="203.12" y="530.81" font-size="7.29" text-anchor="middle" textLength="14.36" lengthAdjust="spacingAndGlyphs" fill="#545454" stroke="#545454" stroke-width="0.26">89.7</text>
<text x="246.24" y="530.81" font-size="7.29" text-anchor="middle" textLength="18.47" lengthAdjust="spacingAndGlyphs" fill="#545454" stroke="#545454" stroke-width="0.26">87.11</text>
<rect x="25.10" y="526.10" width="4.30" height="4.20" fill="#4472c4" />
<text x="31.30" y="530.81" font-size="7.29" text-anchor="start" textLength="17.52" lengthAdjust="spacingAndGlyphs" fill="#545454" stroke="#545454" stroke-width="0.26">PCOS</text>
<rect x="286.60" y="365.50" width="257.80" height="173.50" fill="#ffffff" stroke="#e4e4e4" stroke-width="1"/>
<text x="415.30" y="384.04" font-size="11.30" text-anchor="middle" textLength="49.63" lengthAdjust="spacingAndGlyphs" fill="#545454" stroke="#545454" stroke-width="0.33">Cleveland</text>
<line x1="346.60" y1="497.60" x2="534.00" y2="497.60" stroke="#dcdcdc" stroke-width="0.8"/>
<text x="338.80" y="500.21" font-size="7.29" text-anchor="end" textLength="4.11" lengthAdjust="spacingAndGlyphs" fill="#606060" stroke="#606060" stroke-width="0.2">0</text>
<line x1="346.60" y1="483.54" x2="534.00" y2="483.54" stroke="#dcdcdc" stroke-width="0.8"/>
<text x="338.80" y="486.15" font-size="7.29" text-anchor="end" textLength="8.21" lengthAdjust="spacingAndGlyphs" fill="#606060" stroke="#606060" stroke-width="0.2">10</text>
<line x1="346.60" y1="469.49" x2="534.00" y2="469.49" stroke="#dcdcdc" stroke-width="0.8"/>
<text x="338.80" y="472.10" font-size="7.29" text-anchor="end" textLength="8.21" lengthAdjust="spacingAndGlyphs" fill="#606060" stroke="#606060" stroke-width="0.2">20</text>
<line x1="346.60" y1="455.43" x2="534.00" y2="455.43" stroke="#dcdcdc" stroke-width="0.8"/>
<text x="338.80" y="458.04" font-size="7.29" text-anchor="end" textLength="8.21" lengthAdjust="spacingAndGlyphs" fill="#606060" stroke="#606060" stroke-width="0.2">30</text>
<line x1="346.60" y1="441.37" x2="534.00" y2="441.37" stroke="#dcdcdc" stroke-width="0.8"/>
<text x="338.80" y="443.98" font-size="7.29" text-anchor="end" textLength="8.21" lengthAdjust="spacingAndGlyphs" fill="#606060" stroke="#606060" stroke-width="0.2">40</text>
<line x1="346.60" y1="427.31" x2="534.00" y2="427.31" stroke="#dcdcdc" stroke-width="0.8"/>
<text x="338.80" y="429.92" font-size="7.29" text-anchor="end" textLength="8.21" lengthAdjust="spacingAndGlyphs" fill="#606060" stroke="#606060" stroke-width="0.2">50</text>
<line x1="346.60" y1="413.26" x2="534.00" y2="413.26" stroke="#dcdcdc" stroke-width="0.8"/>
<text x="338.80" y="415.87" font-size="7.29" text-anchor="end" textLength="8.21" lengthAdjust="spacingAndGlyphs" fill="#606060" stroke="#606060" stroke-width="0.2">60</text>
<line x1="346.60" y1="399.20" x2="534.00" y2="399.20" stroke="#dcdcdc" stroke-width="0.8"/>
<text x="338.80" y="401.81" font-size="7.29" text-anchor="end" textLength="8.21" lengthAdjust="spacingAndGlyphs" fill="#606060" stroke="#606060" stroke-width="0.2">70</text>
<rect x="359.95" y="415.44" width="11.50" height="82.16" fill="#4472c4" />
<text x="365.70" y="409.15" font-size="7.02" text-anchor="middle" textLength="17.78" lengthAdjust="spacingAndGlyphs" fill="#4a4a4a" stroke="#4a4a4a" stroke-width="0.3">58.66</text>
<rect x="397.30" y="429.17" width="11.50" height="68.43" fill="#4472c4" />
<text x="403.05" y="422.89" font-size="7.02" text-anchor="middle" textLength="17.78" lengthAdjust="spacingAndGlyphs" fill="#4a4a4a" stroke="#4a4a4a" stroke-width="0.3">48.89</text>
<rect x="434.65" y="419.18" width="11.50" height="78.42" fill="#4472c4" />
<text x="440.40" y="412.89" font-size="7.02" text-anchor="middle" textLength="7.91" lengthAdjust="spacingAndGlyphs" fill="#4a4a4a" stroke="#4a4a4a" stroke-width="0.3">56</text>
<rect x="472.00" y="419.18" width="11.50" height="78.42" fill="#4472c4" />
<text x="477.75" y="412.89" font-size="7.02" text-anchor="middle" textLength="7.91" lengthAdjust="spacingAndGlyphs" fill="#4a4a4a" stroke="#4a4a4a" stroke-width="0.3">56</text>
<rect x="509.35" y="415.13" width="11.50" height="82.47" fill="#4472c4" />
<text x="515.10" y="408.84" font-size="7.02" text-anchor="middle" textLength="17.78" lengthAdjust="spacingAndGlyphs" fill="#4a4a4a" stroke="#4a4a4a" stroke-width="0.3">58.88</text>
<line x1="346.60" y1="497.60" x2="346.60" y2="536.00" stroke="#e6e6e6" stroke-width="0.8"/>
<line x1="384.08" y1="497.60" x2="384.08" y2="510.20" stroke="#e6e6e6" stroke-width="0.8"/>
<line x1="384.08" y1="523.60" x2="384.08" y2="536.00" stroke="#e6e6e6" stroke-width="0.8"/>
<line x1="421.56" y1="497.60" x2="421.56" y2="536.00" stroke="#e6e6e6" stroke-width="0.8"/>
<line x1="459.04" y1="497.60" x2="459.04" y2="510.20" stroke="#e6e6e6" stroke-width="0.8"/>
<line x1="459.04" y1="523.60" x2="459.04" y2="536.00" stroke="#e6e6e6" stroke-width="0.8"/>
<line x1="496.52" y1="497.60" x2="496.52" y2="536.00" stroke="#e6e6e6" stroke-width="0.8"/>
<line x1="534.00" y1="497.60" x2="534.00" y2="536.00" stroke="#e6e6e6" stroke-width="0.8"/>
<text x="365.34" y="506.01" font-size="7.29" text-anchor="middle" textLength="7.80" lengthAdjust="spacingAndGlyphs" fill="#545454" stroke="#545454" stroke-width="0.26">LR</text>
<text x="402.82" y="506.01" font-size="7.29" text-anchor="middle" textLength="14.67" lengthAdjust="spacingAndGlyphs" fill="#545454" stroke="#545454" stroke-width="0.26">KNN</text>
<text x="440.30" y="506.01" font-size="7.29" text-anchor="middle" textLength="7.80" lengthAdjust="spacingAndGlyphs" fill="#545454" stroke="#545454" stroke-width="0.26">LR</text>
<text x="477.78" y="506.01" font-size="7.29" text-anchor="middle" textLength="14.67" lengthAdjust="spacingAndGlyphs" fill="#545454" stroke="#545454" stroke-width="0.26">KNN</text>
<text x="515.26" y="506.01" font-size="7.29" text-anchor="middle" textLength="26.32" lengthAdjust="spacingAndGlyphs" fill="#545454" stroke="#545454" stroke-width="0.26">LR, KNN</text>
<text x="384.08" y="519.34" font-size="7.65" text-anchor="middle" textLength="40.49" lengthAdjust="spacingAndGlyphs" fill="#545454" stroke="#545454" stroke-width="0.26">All Features</text>
<text x="459.04" y="519.21" font-size="7.29" text-anchor="middle" textLength="12.82" lengthAdjust="spacingAndGlyphs" fill="#545454" stroke="#545454" stroke-width="0.26">PCC</text>
<text x="515.26" y="519.21" font-size="7.29" text-anchor="middle" textLength="20.02" lengthAdjust="spacingAndGlyphs" fill="#545454" stroke="#545454" stroke-width="0.26">MISFS</text>
<line x1="301.20" y1="523.60" x2="534.00" y2="523.60" stroke="#e6e6e6" stroke-width="0.8"/>
<line x1="301.20" y1="536.00" x2="534.00" y2="536.00" stroke="#e6e6e6" stroke-width="0.8"/>
<line x1="301.20" y1="523.60" x2="301.20" y2="536.00" stroke="#e6e6e6" stroke-width="0.8"/>
<text x="365.34" y="531.81" font-size="7.29" text-anchor="middle" textLength="18.47" lengthAdjust="spacingAndGlyphs" fill="#545454" stroke="#545454" stroke-width="0.26">58.66</text>
<text x="402.82" y="531.81" font-size="7.29" text-anchor="middle" textLength="18.47" lengthAdjust="spacingAndGlyphs" fill="#545454" stroke="#545454" stroke-width="0.26">48.89</text>
<text x="440.30" y="531.81" font-size="7.29" text-anchor="middle" textLength="8.21" lengthAdjust="spacingAndGlyphs" fill="#545454" stroke="#545454" stroke-width="0.26">56</text>
<text x="477.78" y="531.81" font-size="7.29" text-anchor="middle" textLength="8.21" lengthAdjust="spacingAndGlyphs" fill="#545454" stroke="#545454" stroke-width="0.26">56</text>
<text x="515.26" y="531.81" font-size="7.29" text-anchor="middle" textLength="18.47" lengthAdjust="spacingAndGlyphs" fill="#545454" stroke="#545454" stroke-width="0.26">58.88</text>
<rect x="304.90" y="527.10" width="4.30" height="4.20" fill="#4472c4" />
<text x="311.10" y="531.81" font-size="7.29" text-anchor="start" textLength="32.03" lengthAdjust="spacingAndGlyphs" fill="#545454" stroke="#545454" stroke-width="0.26">Cleveland</text>
</svg>
</body></html>
